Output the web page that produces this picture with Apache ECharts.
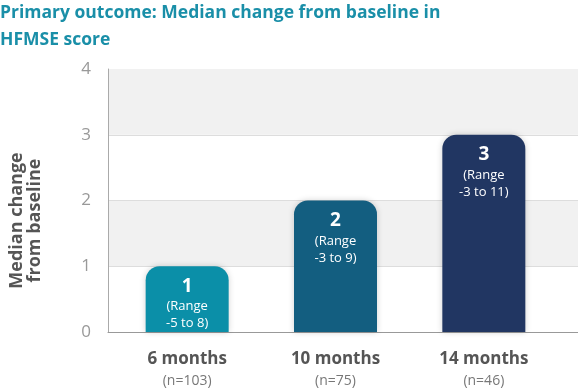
<!DOCTYPE html>
<html><head><meta charset="utf-8">
<script src="https://cdn.jsdelivr.net/npm/echarts@6/dist/echarts.min.js"></script>
<style>html,body{margin:0;padding:0;background:#fff}#c{width:578px;height:390px}</style>
</head><body><div id="c"></div>
<script>
const titleText = "Primary outcome: Median change from baseline in\nHFMSE score";
const yAxisName = "Median change\nfrom baseline";
const categories = ["6 months", "10 months", "14 months"];
const sampleSizes = ["(n=103)", "(n=75)", "(n=46)"];
const medianValues = [1, 2, 3];
const rangeLabels = ["(Range\n-5 to 8)", "(Range\n-3 to 9)", "(Range\n-3 to 11)"];
const barColors = ["#0b8fa8", "#135e80", "#213662"];
const yTicks = [0, 1, 2, 3, 4];

const font = "'Open Sans', sans-serif";
const chart = echarts.init(document.getElementById('c'));
chart.setOption({
  animation: false,
  textStyle: { fontFamily: font },
  title: {
    text: titleText, left: 0, top: 0, padding: 0,
    textStyle: { fontFamily: font, fontSize: 17.5, fontWeight: 'bold', color: '#1a8fa8', lineHeight: 27 }
  },
  grid: [
    { left: 93, right: 0, top: 69, bottom: 58 },
    { left: 113, right: 20, top: 69, bottom: 58 }
  ],
  xAxis: [
    { type: 'category', gridIndex: 0, data: ['a'], axisLine: { lineStyle: { color: '#999', width: 1 } }, axisTick: { show: false }, axisLabel: { show: false } },
    { type: 'category', gridIndex: 1, data: categories, axisLine: { show: false }, axisTick: { show: false },
      axisLabel: {
        margin: 16,
        formatter: (v, i) => '{a|' + v + '}\n{b|' + sampleSizes[i] + '}',
        rich: {
          a: { fontFamily: font, fontSize: 17, fontWeight: 'bold', color: '#555', lineHeight: 22 },
          b: { fontFamily: font, fontSize: 14, color: '#777', lineHeight: 22 }
        }
      } }
  ],
  yAxis: [
    { type: 'value', gridIndex: 0, min: yTicks[0], max: yTicks[yTicks.length - 1], interval: 1,
      name: yAxisName, nameLocation: 'middle', nameGap: 64, nameRotate: 90,
      nameTextStyle: { fontFamily: font, fontSize: 18, fontWeight: 'bold', color: '#555', lineHeight: 18, padding: [0, 40, 0, 0] },
      axisLine: { show: true, lineStyle: { color: '#aaa' } }, axisTick: { show: false },
      axisLabel: { margin: 17, fontSize: 17, color: '#999', fontFamily: font },
      splitLine: { show: true, lineStyle: { color: ['#ddd', '#ddd', '#ddd', '#ddd', 'rgba(0,0,0,0)'] } },
      splitArea: { show: true, areaStyle: { color: ['#ffffff', '#f1f1f1'] } }
    },
    { type: 'value', gridIndex: 1, min: yTicks[0], max: yTicks[yTicks.length - 1], interval: 1, show: false, splitLine: { show: false } }
  ],
  series: [{
    type: 'bar', xAxisIndex: 1, yAxisIndex: 1, barWidth: 83,
    data: medianValues.map((v, i) => ({
      value: v,
      itemStyle: { color: barColors[i] },
      label: {
        show: true, position: 'insideTop', distance: 8,
        formatter: '{v|' + v + '}\n{r|' + rangeLabels[i] + '}',
        rich: {
          v: { fontFamily: font, fontSize: 19, fontWeight: 'bold', color: '#fff', lineHeight: 24 },
          r: { fontFamily: font, fontSize: 13, color: '#fff', lineHeight: 17 }
        }
      }
    })),
    itemStyle: { borderRadius: [14, 14, 0, 0], shadowBlur: 6, shadowColor: 'rgba(0,0,0,0.18)', shadowOffsetY: 0 }
  }]
});
</script></body></html>
